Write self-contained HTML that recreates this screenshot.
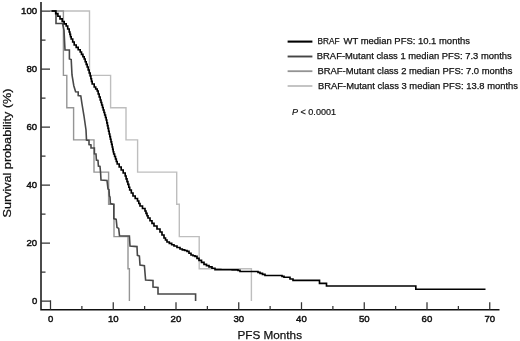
<!DOCTYPE html>
<html lang="en"><head><meta charset="utf-8"><title>PFS by BRAF class</title>
<style>html,body{margin:0;padding:0;background:#fff}svg{display:block}text{font-family:"Liberation Sans",sans-serif;fill:#111}</style></head><body>
<svg width="520" height="341" viewBox="0 0 520 341">
<rect width="520" height="341" fill="#fff"/>
<g fill="none" stroke-linejoin="miter" stroke-linecap="butt">
<path d="M50.5 11.0 L89.5 11.0 L89.5 75.4 L110.6 75.4 L110.6 107.7 L126.0 107.7 L126.0 139.9 L137.6 139.9 L137.6 172.1 L176.7 172.1 L176.7 204.3 L179.3 204.3 L179.3 236.6 L199.2 236.6 L199.2 268.8 L251.4 268.8 L251.4 301.0" stroke="#bebebe" stroke-width="1.4"/>
<path d="M50.5 11.0 L63.4 11.0 L63.4 75.4 L66.8 75.4 L66.8 107.7 L73.6 107.7 L73.6 139.9 L94.0 139.9 L94.0 172.1 L108.6 172.1 L108.6 204.3 L114.0 204.3 L114.0 236.6 L128.0 236.6 L128.0 268.8 L129.4 268.8 L129.4 301.0" stroke="#959595" stroke-width="1.4"/>
<path d="M50.5 11.0 L56.0 11.0 L56.0 23.5 L62.5 23.5 L64.0 30.0 L65.0 50.0 L69.4 50.0 L69.4 59.0 L71.2 59.5 L72.0 75.0 L73.8 85.7 L75.6 91.8 L78.2 92.0 L78.2 95.6 L80.8 96.0 L82.0 104.0 L84.0 116.0 L86.0 130.0 L86.5 140.0 L89.0 140.4 L89.0 144.6 L91.0 145.0 L91.0 148.0 L94.4 148.0 L94.4 153.8 L96.0 154.0 L96.4 160.0 L98.0 160.4 L98.4 166.0 L100.0 166.4 L100.6 173.0 L101.0 180.0 L107.0 180.4 L108.0 189.0 L109.0 189.6 L109.4 196.0 L110.0 197.0 L110.4 203.6 L113.8 204.4 L113.8 218.6 L116.2 219.4 L117.0 227.4 L118.7 228.4 L119.5 235.8 L129.4 236.0 L130.0 246.0 L137.0 246.6 L137.4 255.3 L139.4 256.0 L140.0 265.0 L144.4 265.6 L145.6 280.0 L153.0 280.4 L153.0 287.0 L158.0 287.4 L158.0 294.0 L195.6 294.0 L195.6 301.0" stroke="#484848" stroke-width="1.6"/>
<path d="M52.0 11.0 L53.5 11.0 L55.7 11.0 L55.7 13.6 L57.9 13.6 L57.9 16.2 L60.0 16.2 L60.0 18.9 L62.2 18.9 L62.2 21.5 L64.2 21.5 L64.2 23.8 L66.2 23.8 L66.2 26.0 L67.7 26.0 L67.7 29.0 L69.2 29.0 L69.2 32.0 L69.9 32.0 L69.9 34.3 L70.5 34.3 L70.5 36.7 L71.2 36.7 L71.2 39.0 L72.7 39.0 L72.7 42.0 L74.2 42.0 L74.2 45.0 L76.2 45.0 L76.2 47.3 L78.2 47.3 L78.2 49.7 L80.2 49.7 L80.2 52.0 L81.5 52.0 L81.5 54.3 L82.9 54.3 L82.9 56.7 L84.2 56.7 L84.2 59.0 L85.2 59.0 L85.2 61.7 L86.2 61.7 L86.2 64.3 L87.2 64.3 L87.2 67.0 L88.2 67.0 L88.2 70.0 L89.2 70.0 L89.2 73.0 L90.2 73.0 L90.2 76.0 L90.9 76.0 L90.9 78.7 L91.5 78.7 L91.5 81.3 L92.2 81.3 L92.2 84.0 L94.2 84.0 L94.2 87.0 L95.7 87.0 L95.7 89.0 L97.2 89.0 L97.2 91.0 L98.2 91.0 L98.2 94.0 L99.2 94.0 L99.2 97.0 L100.2 97.0 L100.2 100.0 L101.0 100.0 L101.0 102.5 L101.7 102.5 L101.7 105.0 L102.5 105.0 L102.5 107.5 L103.2 107.5 L103.2 110.0 L104.0 110.0 L104.0 112.5 L104.7 112.5 L104.7 115.0 L105.5 115.0 L105.5 117.5 L106.2 117.5 L106.2 120.0 L106.8 120.0 L106.8 122.8 L107.4 122.8 L107.4 125.6 L108.0 125.6 L108.0 128.4 L108.6 128.4 L108.6 131.2 L109.2 131.2 L109.2 134.0 L109.8 134.0 L109.8 136.6 L110.4 136.6 L110.4 139.2 L111.0 139.2 L111.0 141.8 L111.6 141.8 L111.6 144.4 L112.2 144.4 L112.2 147.0 L112.7 147.0 L112.7 149.3 L113.2 149.3 L113.2 151.7 L113.7 151.7 L113.7 154.0 L114.6 154.0 L114.6 156.5 L115.5 156.5 L115.5 159.0 L116.3 159.0 L116.3 161.5 L117.2 161.5 L117.2 164.0 L119.2 164.0 L119.2 167.0 L121.2 167.0 L121.2 170.0 L123.2 170.0 L123.2 173.0 L125.2 173.0 L125.2 176.0 L126.1 176.0 L126.1 178.8 L127.0 178.8 L127.0 181.6 L127.9 181.6 L127.9 184.4 L128.8 184.4 L128.8 187.2 L129.7 187.2 L129.7 190.0 L131.3 190.0 L131.3 193.0 L133.0 193.0 L133.0 196.0 L135.2 196.0 L135.2 198.5 L137.5 198.5 L137.5 201.0 L138.8 201.0 L138.8 203.5 L140.0 203.5 L140.0 206.0 L142.5 206.0 L142.5 208.5 L145.0 208.5 L145.0 211.0 L146.0 211.0 L146.0 213.3 L147.0 213.3 L147.0 215.7 L148.0 215.7 L148.0 218.0 L150.0 218.0 L150.0 220.7 L152.0 220.7 L152.0 223.3 L154.0 223.3 L154.0 226.0 L157.0 226.0 L157.0 229.0 L160.0 229.0 L160.0 232.0 L162.0 232.0 L162.0 235.0 L164.0 235.0 L164.0 238.0 L165.5 238.0 L165.5 240.0 L167.0 240.0 L167.0 242.0 L169.3 242.0 L169.3 243.3 L171.7 243.3 L171.7 244.7 L174.0 244.7 L174.0 246.0 L177.0 246.0 L177.0 247.5 L180.0 247.5 L180.0 249.0 L182.3 249.0 L182.3 249.8 L184.7 249.8 L184.7 250.5 L187.0 250.5 L187.0 251.3 L189.0 251.3 L189.0 253.2 L191.0 253.2 L191.0 255.0 L193.0 255.0 L193.0 255.7 L195.0 255.7 L195.0 256.3 L197.0 256.3 L197.0 258.3 L199.0 258.3 L199.0 260.3 L201.5 260.3 L201.5 262.3 L204.0 262.3 L204.0 264.3 L206.5 264.3 L206.5 265.6 L209.0 265.6 L209.0 266.8 L212.0 266.8 L212.0 268.2 L215.0 268.2 L215.0 269.6 L217.9 269.6 L217.9 269.6 L220.8 269.6 L220.8 269.7 L223.6 269.7 L223.6 269.7 L226.5 269.7 L226.5 269.7 L229.4 269.7 L229.4 269.7 L232.2 269.7 L232.2 269.8 L235.1 269.8 L235.1 269.8 L238.0 269.8 L238.0 269.8 L238.0 270.4 L240.0 270.4 L240.0 271.5 L256.0 271.5 L258.0 271.5 L258.0 272.4 L260.0 272.4 L260.0 273.4 L262.5 273.4 L262.5 274.4 L265.0 274.4 L265.0 275.5 L280.0 275.5 L282.0 275.5 L282.0 276.4 L284.0 276.4 L284.0 277.2 L289.0 277.2 L290.0 277.2 L290.0 279.0 L293.0 279.0 L293.0 280.4 L319.0 280.4 L319.5 280.4 L319.5 283.4 L326.0 283.4 L326.5 283.4 L326.5 286.0 L415.8 286.0 L415.8 289.2 L485.5 289.2" stroke="#000" stroke-width="1.65"/>
</g>
<g stroke="#111" fill="none">
<path d="M41 2 V309.85 H499.5" stroke-width="1.5"/>
<path d="M50.50 309.85 V300.3 M81.88 309.85 V306 M113.25 309.85 V302.3 M144.62 309.85 V306 M176.00 309.85 V302.3 M207.38 309.85 V306 M238.75 309.85 V302.3 M270.12 309.85 V306 M301.50 309.85 V302.3 M332.88 309.85 V306 M364.25 309.85 V302.3 M395.62 309.85 V306 M427.00 309.85 V302.3 M458.38 309.85 V306 M489.75 309.85 V302.3 M41 301.00 H50 M41 272.00 H45.5 M41 243.00 H50 M41 214.00 H45.5 M41 185.00 H50 M41 156.00 H45.5 M41 127.00 H50 M41 98.00 H45.5 M41 69.00 H50 M41 40.00 H45.5 M41 11.00 H50" stroke-width="1.25" stroke="#333"/>
</g>
<g font-size="9.5" stroke="#111" stroke-width="0.45">
<text x="31.9" y="303.8" textLength="5.3" lengthAdjust="spacingAndGlyphs">0</text>
<text x="26.5" y="245.8" textLength="10.7" lengthAdjust="spacingAndGlyphs">20</text>
<text x="26.5" y="187.8" textLength="10.7" lengthAdjust="spacingAndGlyphs">40</text>
<text x="26.5" y="129.8" textLength="10.7" lengthAdjust="spacingAndGlyphs">60</text>
<text x="26.5" y="71.8" textLength="10.7" lengthAdjust="spacingAndGlyphs">80</text>
<text x="21.0" y="13.8" textLength="16.2" lengthAdjust="spacingAndGlyphs">100</text>
</g>
<g font-size="9.5" stroke="#111" stroke-width="0.45">
<text x="47.9" y="322.3" textLength="5.3" lengthAdjust="spacingAndGlyphs">0</text>
<text x="107.9" y="322.3" textLength="10.7" lengthAdjust="spacingAndGlyphs">10</text>
<text x="170.6" y="322.3" textLength="10.7" lengthAdjust="spacingAndGlyphs">20</text>
<text x="233.4" y="322.3" textLength="10.7" lengthAdjust="spacingAndGlyphs">30</text>
<text x="296.1" y="322.3" textLength="10.7" lengthAdjust="spacingAndGlyphs">40</text>
<text x="358.9" y="322.3" textLength="10.7" lengthAdjust="spacingAndGlyphs">50</text>
<text x="421.6" y="322.3" textLength="10.7" lengthAdjust="spacingAndGlyphs">60</text>
<text x="484.4" y="322.3" textLength="10.7" lengthAdjust="spacingAndGlyphs">70</text>
</g>
<text x="237.5" y="339.2" font-size="11.4" textLength="64.5" lengthAdjust="spacingAndGlyphs" stroke="#111" stroke-width="0.25">PFS Months</text>
<text transform="translate(10.5 217.5) rotate(-90)" font-size="11" textLength="129" lengthAdjust="spacingAndGlyphs" stroke="#111" stroke-width="0.25">Survival probability (%)</text>
<g fill="none">
<path d="M287.6 41.6 H312.4" stroke="#000" stroke-width="2.1"/>
<path d="M287.6 56.5 H312.4" stroke="#454545" stroke-width="1.9"/>
<path d="M287.6 71.2 H312.4" stroke="#939393" stroke-width="1.8"/>
<path d="M287.6 86.0 H312.4" stroke="#bebebe" stroke-width="1.8"/>
</g>
<g font-size="9.3" stroke="#111" stroke-width="0.25">
<text x="317.5" y="44.0" textLength="22.0" lengthAdjust="spacingAndGlyphs">BRAF</text>
<text x="343.6" y="44.0" textLength="126.4" lengthAdjust="spacingAndGlyphs">WT median PFS: 10.1 months</text>
<text x="316.8" y="58.6" textLength="195.0" lengthAdjust="spacingAndGlyphs">BRAF-Mutant class 1 median PFS: 7.3 months</text>
<text x="317.5" y="73.5" textLength="195.0" lengthAdjust="spacingAndGlyphs">BRAF-Mutant class 2 median PFS: 7.0 months</text>
<text x="318.0" y="88.5" textLength="200.0" lengthAdjust="spacingAndGlyphs">BRAF-Mutant class 3 median PFS: 13.8 months</text>
</g>
<text x="292" y="115.2" font-size="9.6" stroke="#111" stroke-width="0.2" textLength="44" lengthAdjust="spacingAndGlyphs"><tspan font-style="italic">P</tspan> &lt; 0.0001</text>
</svg></body></html>
